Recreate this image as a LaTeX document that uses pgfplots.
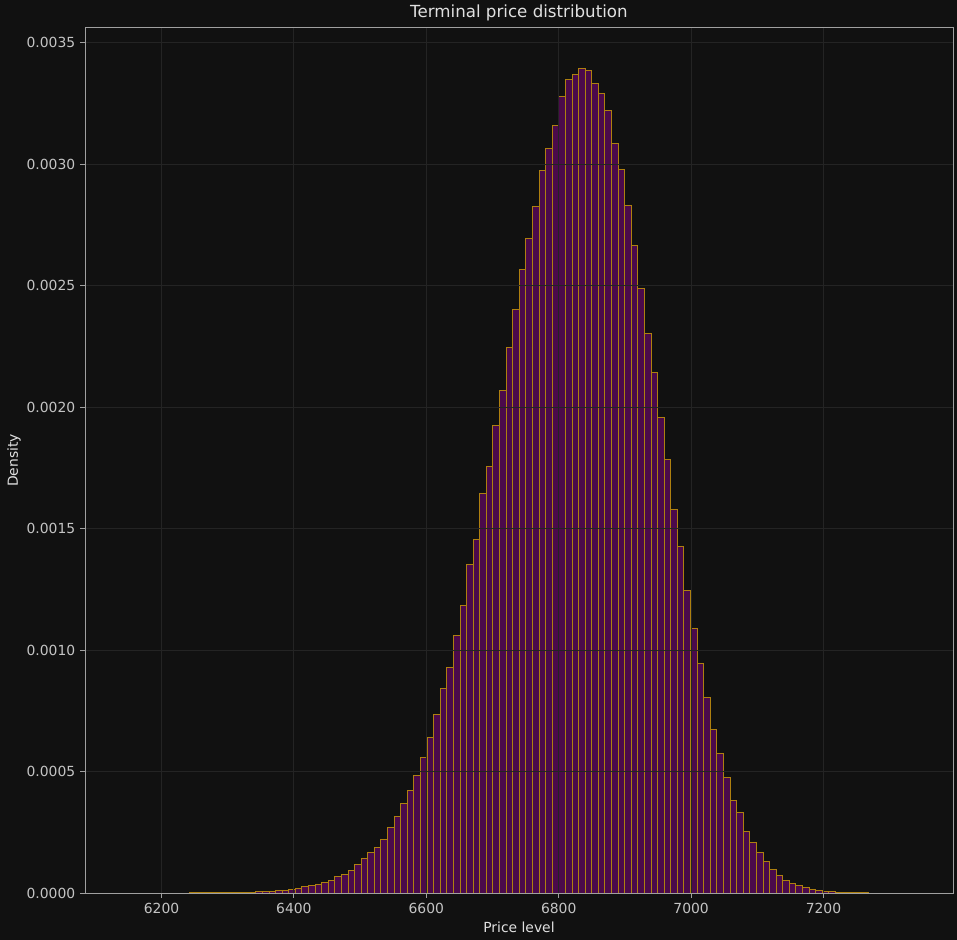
\documentclass[border=0pt]{standalone}
\usepackage{fontspec}
\setmainfont{DejaVu Sans}
\usepackage{pgfplots}
\pgfplotsset{compat=1.18}
\definecolor{bg}{HTML}{111111}
\definecolor{barfill}{HTML}{4B0A4B}
\definecolor{baredge}{HTML}{AE800F}
\definecolor{spine}{HTML}{A0A0A0}
\definecolor{gridc}{HTML}{242424}
\definecolor{ticklab}{HTML}{C4C4C4}
\definecolor{labc}{HTML}{E0E0E0}
\begin{document}
\begin{tikzpicture}
\fill[bg] (-61.2pt,-33.6pt) rectangle (627.9pt,643.1pt);
\useasboundingbox (-61.2pt,-33.6pt) rectangle (627.9pt,643.1pt);
\begin{axis}[
  at={(0,0)}, anchor=south west,
  scale only axis, width=625pt, height=623.2pt,
  xmin=6084.4, xmax=7395.6, ymin=0, ymax=0.003562,
  axis on top,
  axis line style={spine, line width=0.6pt},
  xtick={6200,6400,6600,6800,7000,7200},
  ytick={0,0.0005,0.001,0.0015,0.002,0.0025,0.003,0.0035},
  tick align=outside, major tick length=3.5pt,
  tick style={spine, line width=0.6pt},
  xtick pos=bottom, ytick pos=left,
  grid=major, major grid style={gridc, line width=0.6pt},
  tick label style={font=\fontsize{10}{12}\selectfont, color=ticklab},
  /pgf/number format/assume math mode=true,
  scaled y ticks=false,
  yticklabel style={/pgf/number format/.cd, fixed, fixed zerofill, precision=4},
  xticklabel style={/pgf/number format/1000 sep={}},
  title={Terminal price distribution},
  title style={at={(axis description cs:0.5,1.017)}, anchor=center, yshift=-6pt, font=\fontsize{12}{14}\selectfont, color=labc},
  xlabel={Price level}, ylabel={Density},
  xlabel style={at={(axis description cs:0.5,-0.0401)}, anchor=center, font=\fontsize{10}{12}\selectfont, color=labc},
  ylabel style={at={(axis description cs:-0.0816,0.5)}, anchor=center, font=\fontsize{10}{12}\selectfont, color=labc},
]
\addplot[ybar interval, fill=barfill, draw=baredge, line width=0.72pt] coordinates {
(6243.00,0.0000015) (6252.95,0.0000015) (6262.90,0.0000020) (6272.85,0.0000020)
(6282.80,0.0000015) (6292.75,0.0000020) (6302.70,0.0000025) (6312.65,0.0000020)
(6322.60,0.0000030) (6332.55,0.0000030) (6342.50,0.0000055) (6352.45,0.0000055)
(6362.40,0.0000060) (6372.35,0.0000100) (6382.30,0.0000105) (6392.25,0.0000150)
(6402.20,0.0000210) (6412.15,0.0000290) (6422.10,0.0000300) (6432.05,0.0000370)
(6442.00,0.0000450) (6451.95,0.0000530) (6461.90,0.0000700) (6471.85,0.0000780)
(6481.80,0.0000950) (6491.75,0.0001170) (6501.70,0.0001440) (6511.65,0.0001690)
(6521.60,0.0001890) (6531.55,0.0002220) (6541.50,0.0002710) (6551.45,0.0003170)
(6561.40,0.0003700) (6571.35,0.0004240) (6581.30,0.0004850) (6591.25,0.0005590)
(6601.20,0.0006420) (6611.15,0.0007360) (6621.10,0.0008430) (6631.05,0.0009300)
(6641.00,0.0010610) (6650.95,0.0011850) (6660.90,0.0013530) (6670.85,0.0014560)
(6680.80,0.0016450) (6690.75,0.0017560) (6700.70,0.0019250) (6710.65,0.0020690)
(6720.60,0.0022460) (6730.55,0.0024020) (6740.50,0.0025660) (6750.45,0.0026940)
(6760.40,0.0028250) (6770.35,0.0029730) (6780.30,0.0030640) (6790.25,0.0031590)
(6800.20,0.0032780) (6810.15,0.0033480) (6820.10,0.0033680) (6830.05,0.0033930)
(6840.00,0.0033850) (6849.95,0.0033310) (6859.90,0.0032900) (6869.85,0.0032200)
(6879.80,0.0030850) (6889.75,0.0029780) (6899.70,0.0028300) (6909.65,0.0026650)
(6919.60,0.0024880) (6929.55,0.0023030) (6939.50,0.0021430) (6949.45,0.0019580)
(6959.40,0.0017850) (6969.35,0.0015790) (6979.30,0.0014270) (6989.25,0.0012460)
(6999.20,0.0010900) (7009.15,0.0009460) (7019.10,0.0008060) (7029.05,0.0006740)
(7039.00,0.0005760) (7048.95,0.0004770) (7058.90,0.0003820) (7068.85,0.0003330)
(7078.80,0.0002550) (7088.75,0.0002100) (7098.70,0.0001690) (7108.65,0.0001320)
(7118.60,0.0000990) (7128.55,0.0000740) (7138.50,0.0000530) (7148.45,0.0000410)
(7158.40,0.0000330) (7168.35,0.0000250) (7178.30,0.0000160) (7188.25,0.0000120)
(7198.20,0.0000080) (7208.15,0.0000080) (7218.10,0.0000025) (7228.05,0.0000025)
(7238.00,0.0000020) (7247.95,0.0000020) (7257.90,0.0000015) (7267.85,0)
};
\end{axis}
\end{tikzpicture}
\end{document}
